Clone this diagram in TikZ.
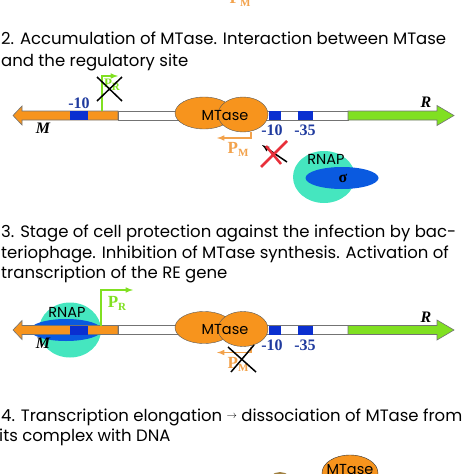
\documentclass[tikz,border=0pt]{standalone}
\usepackage{fontspec}
\setmainfont{Liberation Serif}
\newfontfamily\headfont{Poppins}
\usetikzlibrary{shapes.geometric}
\definecolor{mtorange}{HTML}{F7941D}
\definecolor{pmorange}{HTML}{F2A24C}
\definecolor{relime}{HTML}{80E021}
\definecolor{boxblue}{HTML}{0A2FD0}
\definecolor{labblue}{HTML}{1F3A9E}
\definecolor{rnapteal}{HTML}{45E6BF}
\definecolor{sigblue}{HTML}{0A5AE0}
\definecolor{blockred}{HTML}{E8303A}
\definecolor{olivebrown}{HTML}{A08040}
\newcommand\pname[1]{P\raisebox{-3pt}{\fontsize{11}{11}\selectfont #1}}
\begin{document}
\begin{tikzpicture}[x=1pt, y=-1pt, >=latex,
		dnaline/.style={draw=black!55, line width=0.6pt},
		mtlobe/.style={ellipse, draw=black!65, fill=mtorange, inner sep=0pt},
		rnapbody/.style={ellipse, fill=rnapteal, inner sep=0pt},
		sigmabody/.style={ellipse, fill=sigblue, inner sep=0pt},
		head/.style={anchor=base west, inner sep=0pt, font=\headfont\fontsize{16.5}{16.5}\selectfont},
		sans/.style={inner sep=0pt, font=\headfont\fontsize{14.5}{14.5}\selectfont},
		site/.style={inner sep=0pt, text=labblue, font=\bfseries\fontsize{16}{16}\selectfont},
		gene/.style={inner sep=0pt, font=\bfseries\itshape\fontsize{16}{16}\selectfont},
		promM/.style={inner sep=0pt, text=pmorange, font=\bfseries\fontsize{17}{17}\selectfont},
		promR/.style={inner sep=0pt, text=relime, font=\bfseries\fontsize{17}{17}\selectfont},
		cross/.style={line width=1.5pt},
	]
		\useasboundingbox (0,0) rectangle (474,474);
		\clip (0,0) rectangle (474,474);
		% left over from stage 1
		\node (pmtop)[promM, anchor=base] at (240,3) {\pname{M}};
		% stage 2
		\node (t2a)[head] at (1,44) {2. Accumulation of MTase. Interaction between MTase};
		\node (t2b)[head] at (1,66) {and the regulatory site};
		\node (rnap2)[rnapbody, minimum width=62, minimum height=52] at (324,177) {};
		\node (sig2)[sigmabody, minimum width=73, minimum height=22] at (342,178) {};
		\node (sigma2)[inner sep=0pt, font=\bfseries\fontsize{16}{16}\selectfont] at (343,178) {σ};
		\node (rnaptext2)[sans] at (326,159) {RNAP};
		% stage 3
		\node (t3a)[head] at (1,237) {3. Stage of cell protection against the infection by bac-};
		\node (t3b)[head] at (1,258) {teriophage. Inhibition of MTase synthesis. Activation of};
		\node (t3c)[head] at (1,278) {transcription of the RE gene};
		\node (rnap3)[rnapbody, minimum width=62, minimum height=55] at (70,330) {};
		\node (sig3)[sigmabody, minimum width=72, minimum height=22] at (66,330) {};
		\node (rnaptext3)[sans] at (67,312) {RNAP};
		% the DNA of stages 2 and 3
		\foreach \y/\s in {115.5/a, 330/b}
		{
			\draw[dnaline, fill=mtorange] (118,\y-4.5) -- (22,\y-4.5) -- (22,\y-9.5) -- (13,\y) -- (22,\y+9.5) -- (22,\y+4.5) -- (118,\y+4.5) -- cycle;
			\fill[boxblue] (70,\y-4.5) rectangle (88,\y+4.5);
			\draw[dnaline, fill=white] (118,\y-4.5) rectangle (348,\y+4.5);
			\fill[boxblue] (269,\y-4.5) rectangle (281,\y+4.5);
			\fill[boxblue] (298,\y-4.5) rectangle (313,\y+4.5);
			\draw[dnaline, fill=relime] (348,\y-4.5) -- (437,\y-4.5) -- (437,\y-10) -- (454,\y) -- (437,\y+10) -- (437,\y+4.5) -- (348,\y+4.5) -- cycle;
			\node (M\s)[gene] at (43,\y+13) {M};
			\node (R\s)[gene] at (426,\y-13) {R};
			\node (m10\s)[site] at (272,\y+15) {-10};
			\node (m35\s)[site] at (305,\y+15) {-35};
			\node (lobe1\s)[mtlobe, minimum width=58, minimum height=32] at (204,\y-2.5) {};
			\node (lobe2\s)[mtlobe, minimum width=50, minimum height=35] at (243,\y-1) {};
			\node (mt\s)[sans] at (225,\y) {MTase};
			\draw[pmorange, line width=1.5pt, ->] (251,\y+16.5) -- (251,\y+22.5) -- (217,\y+22.5);
			\node (pm\s)[promM] at (238,\y+34) {\pname{M}};
		}
		\node (m10top)[site] at (79,103) {-10};
		% P_R blocked in stage 2
		\draw[relime, line width=1.5pt, ->] (102,111) -- (102,76) -- (118,76);
		\node (pr2)[promR, font=\bfseries\fontsize{13}{13}\selectfont] at (112,85) {\pname{R}};
		\draw[cross] (97,77) -- (122,101) (122,77) -- (97,101);
		% RNAP kept off -10/-35
		\draw[->, line width=1.5pt] (287,162) -- (262,145);
		\draw[blockred, line width=2.5pt] (261,167) -- (287,141) (266,146) -- (281,164);
		% P_R open in stage 3, P_M blocked
		\draw[relime, line width=1.5pt, ->] (101,325.5) -- (101,290) -- (133,290);
		\node (pr3)[promR] at (117,303) {\pname{R}};
		\draw[cross] (228,347) -- (256,372) (231,372) -- (254,345);
		% stage 4
		\node (t4a)[head] at (1,421) {4. Transcription elongation \raisebox{2.5pt}{\scalebox{0.6}{$\rightarrow$}} dissociation of MTase from};
		\node (t4b)[head] at (-1,441) {its complex with DNA};
		\node (olive)[ellipse, fill=olivebrown, minimum width=26, minimum height=26, inner sep=0pt] at (280,485) {};
		\node (lobe4)[mtlobe, draw=black!80, minimum width=56, minimum height=36] at (350,473) {};
		\node (mt4)[sans] at (350,470) {MTase};
	\end{tikzpicture}
\end{document}
